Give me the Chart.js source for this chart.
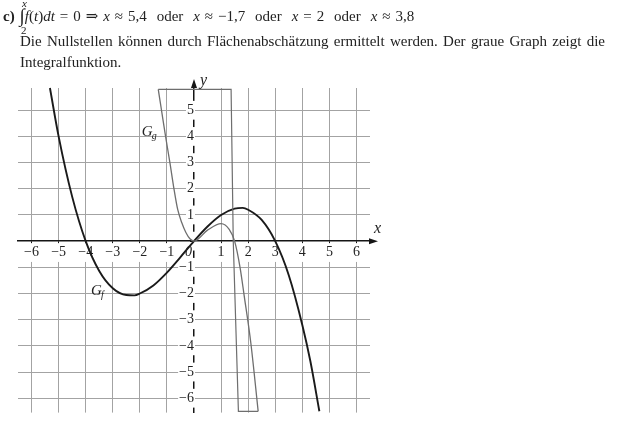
<!DOCTYPE html>
<html>
<head>
<meta charset="utf-8">
<script src="https://cdn.jsdelivr.net/npm/chart.js@4.4.1/dist/chart.umd.min.js"></script>
<style>
  html, body { margin: 0; padding: 0; background: #fff; }
  body { width: 623px; height: 425px; position: relative; overflow: hidden;
         font-family: "Liberation Serif", "DejaVu Serif", serif; color: #222; }
  #chart { position: absolute; left: 0; top: 0; }
  .txt { position: absolute; font-size: 15px; line-height: 17px; white-space: nowrap; }
  .sm { position: absolute; font-size: 11px; line-height: 11px; }
  #l1 { word-spacing: 1.2px; }
  #l2 { width: 585px; text-align: justify; text-align-last: justify; white-space: normal; }
</style>
</head>
<body>
<canvas id="chart" width="623" height="425"></canvas>

<div class="txt" id="l1" style="left:3px; top:6px;">
  <b>c)</b> <span style="font-size:19px; position:relative; top:1px;">&#8747;</span><i>f</i>(<i>t</i>)<i>dt</i> = 0 &#8658; <i>x</i> &#8776; 5,4 &nbsp;oder&nbsp; <i>x</i> &#8776; &#8722;1,7 &nbsp;oder&nbsp; <i>x</i> = 2 &nbsp;oder&nbsp; <i>x</i> &#8776; 3,8
</div>
<div class="sm" style="left:22px; top:-2px;"><i>x</i></div>
<div class="sm" style="left:21px; top:25px;">2</div>
<div class="txt" id="l2" style="left:20px; top:33px;">Die Nullstellen können durch Flächenabschätzung ermittelt werden. Der graue Graph zeigt die</div>
<div class="txt" style="left:20px; top:54px;">Integralfunktion.</div>

<script>
// values
const xTicks = [-6, -5, -4, -3, -2, -1, 0, 1, 2, 3, 4, 5, 6];
const yTicks = [-6, -5, -4, -3, -2, -1, 0, 1, 2, 3, 4, 5];

// G_f (black)
const fX = [-5.32, -5, -4.5, -4, -3.5, -3, -2.5, -2.2, -2, -1.5, -1, -0.5, 0, 0.5, 1, 1.5, 1.8, 2, 2.5, 3, 3.5, 4, 4.3, 4.63];
const fY = [5.85, 4.0, 1.7, 0, -1.14, -1.8, -2.06, -2.07, -2.0, -1.69, -1.2, -0.61, 0, 0.56, 1.0, 1.24, 1.27, 1.2, 0.81, 0, -1.3, -3.2, -4.6, -6.5];

// G_g (grey)
const gX = [-1.32, -1.2, -1.05, -0.89, -0.74, -0.6, -0.45, -0.3, -0.15, 0, 0.5, 1.0, 1.3, 1.5, 1.7, 1.85, 2.1, 2.37];
const gY = [5.8, 5.0, 4.0, 3.0, 2.0, 1.2, 0.7, 0.33, 0.09, 0, 0.42, 0.67, 0.45, 0, -1.0, -2.06, -3.9, -6.5];

// grey frame where the grey graph is cut off
const frameX = [-1.32, 1.37, 1.45, 1.64, 2.37];
const frameY = [5.8, 5.8, 0, -6.5, -6.5];

const toPoints = (xs, ys) => xs.map((x, i) => ({ x: x, y: ys[i] }));

const minusLabel = (v) => (v < 0 ? '\u2212' + Math.abs(v) : String(v));

const GRID = '#a3a3a3';
const AXIS = '#151515';

const axisDecor = {
  id: 'axisDecor',
  afterDraw(chart) {
    const ctx = chart.ctx;
    const xs = chart.scales.x;
    const ys = chart.scales.y;
    const ox = xs.getPixelForValue(0);
    const oy = ys.getPixelForValue(0);
    const area = chart.chartArea;

    ctx.save();
    ctx.strokeStyle = AXIS;
    ctx.fillStyle = AXIS;
    ctx.lineWidth = 1.5;

    // x arrow
    const xEnd = area.right + 8;
    ctx.beginPath();
    ctx.moveTo(area.right, oy);
    ctx.lineTo(xEnd - 4, oy);
    ctx.stroke();
    ctx.beginPath();
    ctx.moveTo(xEnd, oy);
    ctx.lineTo(xEnd - 9, oy - 3);
    ctx.lineTo(xEnd - 9, oy + 3);
    ctx.closePath();
    ctx.fill();

    // y arrow
    const yEnd = area.top - 9;
    ctx.beginPath();
    ctx.moveTo(ox, area.top);
    ctx.lineTo(ox, yEnd + 4);
    ctx.stroke();
    ctx.beginPath();
    ctx.moveTo(ox, yEnd);
    ctx.lineTo(ox - 3, yEnd + 9);
    ctx.lineTo(ox + 3, yEnd + 9);
    ctx.closePath();
    ctx.fill();

    ctx.fillStyle = '#222';
    ctx.textBaseline = 'alphabetic';
    ctx.font = 'italic 16px "Liberation Serif"';
    ctx.fillText('x', xEnd - 4, oy - 8);
    ctx.fillText('y', ox + 6, yEnd + 6);

    ctx.font = 'italic 14px "Liberation Serif"';
    ctx.fillText('0', ox - 9, oy + 15);

    // graph names
    const gg = { x: xs.getPixelForValue(-1.93), y: ys.getPixelForValue(4.0) };
    ctx.font = 'italic 15px "Liberation Serif"';
    ctx.fillText('G', gg.x, gg.y);
    ctx.font = 'italic 10px "Liberation Serif"';
    ctx.fillText('g', gg.x + 10, gg.y + 3);

    const gf = { x: xs.getPixelForValue(-3.8), y: ys.getPixelForValue(-2.05) };
    ctx.font = 'italic 15px "Liberation Serif"';
    ctx.fillText('G', gf.x, gf.y);
    ctx.font = 'italic 10px "Liberation Serif"';
    ctx.fillText('f', gf.x + 10, gf.y + 3);
    ctx.restore();
  }
};

const tickFont = { family: '"Liberation Serif"', size: 14 };

const config = {
  type: 'scatter',
  data: {
    datasets: [
      {
        label: 'frame',
        data: toPoints(frameX, frameY),
        showLine: true,
        borderColor: '#6e6e6e',
        borderWidth: 1.2,
        pointRadius: 0,
        tension: 0,
        clip: false
      },
      {
        label: 'G_g',
        data: toPoints(gX, gY),
        showLine: true,
        borderColor: '#6e6e6e',
        borderWidth: 1.3,
        pointRadius: 0,
        cubicInterpolationMode: 'monotone',
        clip: false
      },
      {
        label: 'G_f',
        data: toPoints(fX, fY),
        showLine: true,
        borderColor: '#1a1a1a',
        borderWidth: 1.9,
        pointRadius: 0,
        cubicInterpolationMode: 'monotone',
        clip: false
      }
    ]
  },
  options: {
    responsive: false,
    animation: false,
    layout: { padding: { left: 18, top: 88, right: 253, bottom: 8 } },
    plugins: {
      legend: { display: false },
      tooltip: { enabled: false }
    },
    scales: {
      x: {
        type: 'linear',
        position: { y: 0 },
        min: -6.5,
        max: 6.5,
        afterBuildTicks: (scale) => { scale.ticks = xTicks.map(v => ({ value: v })); },
        grid: {
          color: (c) => (c.tick && c.tick.value === 0 ? 'rgba(0,0,0,0)' : GRID),
          lineWidth: 1,
          drawTicks: true,
          tickLength: 3,
          tickColor: AXIS
        },
        border: { display: true, color: AXIS, width: 1.5 },
        ticks: {
          font: tickFont,
          color: '#222',
          padding: 0,
          maxRotation: 0,
          autoSkip: false,
          showLabelBackdrop: true,
          backdropColor: '#fff',
          backdropPadding: 1,
          callback: (v) => (v === 0 ? '' : minusLabel(v))
        }
      },
      y: {
        type: 'linear',
        position: { x: 0 },
        min: -6.55,
        max: 5.85,
        afterBuildTicks: (scale) => { scale.ticks = yTicks.map(v => ({ value: v })); },
        grid: {
          color: (c) => (c.tick && c.tick.value === 0 ? 'rgba(0,0,0,0)' : GRID),
          lineWidth: 1,
          drawTicks: true,
          tickLength: 3,
          tickColor: AXIS
        },
        border: { display: true, color: AXIS, width: 1.5 },
        ticks: {
          font: tickFont,
          color: '#222',
          padding: 4,
          autoSkip: false,
          showLabelBackdrop: true,
          backdropColor: '#fff',
          backdropPadding: 1,
          callback: (v) => (v === 0 ? '' : minusLabel(v))
        }
      }
    }
  },
  plugins: [axisDecor]
};

new Chart(document.getElementById('chart'), config);
</script>
</body>
</html>
